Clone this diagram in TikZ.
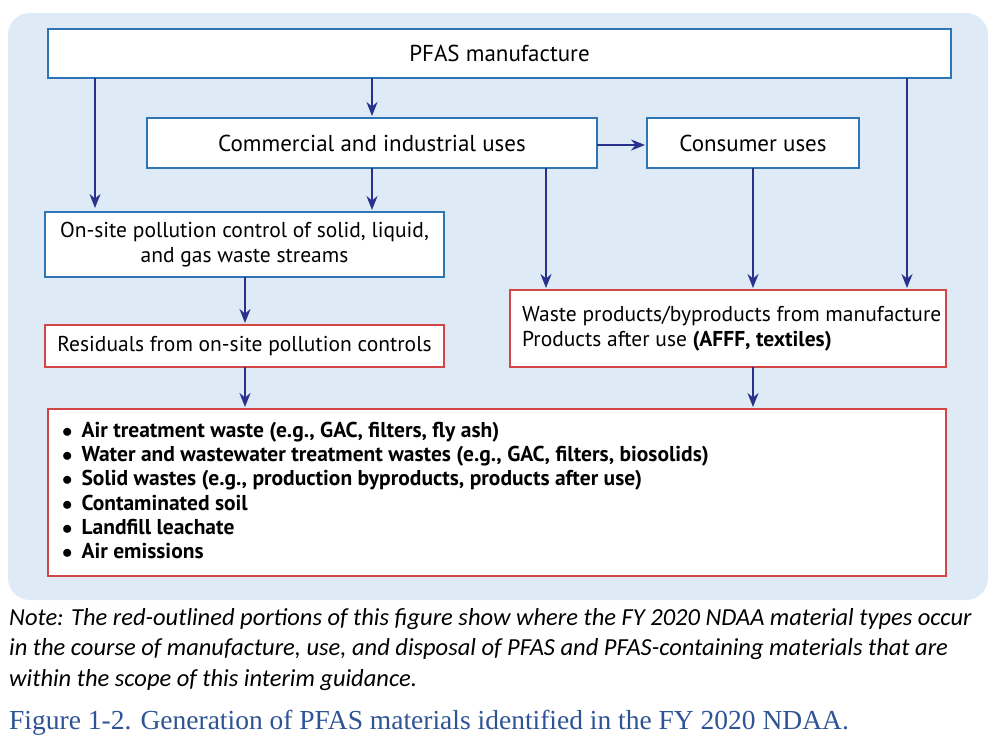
\documentclass[tikz,border=0pt]{standalone}
\usepackage{fontspec}
\usetikzlibrary{arrows.meta}
\setmainfont{PT Sans}
\newfontfamily\notefont{Carlito}
\newfontfamily\capfont{Liberation Serif}
\definecolor{bb}{RGB}{46,117,182}
\definecolor{rr}{RGB}{210,70,70}
\definecolor{bgc}{RGB}{222,234,246}
\definecolor{capc}{RGB}{46,84,150}
\definecolor{arc}{RGB}{40,50,140}
\begin{document}
\begin{tikzpicture}[x=1pt,y=-1pt,
  bx/.style={draw=bb,line width=2pt,fill=white},
  rb/.style={draw=rr,line width=1.8pt,fill=white},
  ar/.style={-{Stealth[length=14pt,width=11pt]},draw=arc,line width=1.8pt},
  tx/.style={font=\fontsize{23}{26}\selectfont,align=center},
  sx/.style={font=\fontsize{21.5}{25}\selectfont}]
\useasboundingbox (0,0) rectangle (1000,745);
\fill[white] (0,0) rectangle (1000,745);
\fill[rounded corners=22pt,fill=bgc] (8,13) rectangle (988,600);
\path[bx] (48,29) rectangle (951,78);
\node[tx] (pfas) at (499.5,53.5) {PFAS manufacture};
\path[bx] (147,118) rectangle (597,168);
\node[tx] (com) at (372,143) {Commercial and industrial uses};
\path[bx] (647,118) rectangle (859,168);
\node[tx] (con) at (753,143) {Consumer uses};
\path[bx] (45,212) rectangle (444,277);
\node[sx,align=center] (ons) at (244.5,244.5) {On-site pollution control of solid, liquid,\\ and gas waste streams};
\path[rb] (45,325) rectangle (444,367);
\node[sx,align=center] (res) at (244.5,346) {Residuals from on-site pollution controls};
\path[rb] (510,290) rectangle (946,367);
\node[sx,align=left,anchor=west,inner sep=0pt] (was) at (522,329) {Waste products/byproducts from manufacture\\ Products after use \textbf{(AFFF, textiles)}};
\path[rb] (48,409) rectangle (946,576);
\node[font=\fontsize{21.5}{24.2}\selectfont\bfseries,align=left,anchor=north west,inner sep=0pt] (lst) at (62,422) {%
$\bullet$\hspace{9pt}Air treatment waste (e.g., GAC, filters, fly ash)\\
$\bullet$\hspace{9pt}Water and wastewater treatment wastes (e.g., GAC, filters, biosolids)\\
$\bullet$\hspace{9pt}Solid wastes (e.g., production byproducts, products after use)\\
$\bullet$\hspace{9pt}Contaminated soil\\
$\bullet$\hspace{9pt}Landfill leachate\\
$\bullet$\hspace{9pt}Air emissions};
\draw[ar] (95,78) -- (95,208);
\draw[ar] (372,78) -- (372,116);
\draw[ar] (372,168) -- (372,210);
\draw[ar] (907,78) -- (907,288);
\draw[ar] (597,145) -- (645,145);
\draw[ar] (546,168) -- (546,288);
\draw[ar] (753,168) -- (753,288);
\draw[ar] (245,277) -- (245,323);
\draw[ar] (245,367) -- (245,407);
\draw[ar] (753,367) -- (753,407);
\node[font=\notefont\itshape\fontsize{24.5}{30.5}\selectfont,align=left,anchor=north west,inner sep=0pt] (note) at (9,608) {Note: The red-outlined portions of this figure show where the FY 2020 NDAA material types occur\\ in the course of manufacture, use, and disposal of PFAS and PFAS-containing materials that are\\ within the scope of this interim guidance.};
\node[font=\capfont\fontsize{27.5}{30}\selectfont,text=capc,anchor=west,inner sep=0pt] (cap) at (9,723) {Figure 1-2. Generation of PFAS materials identified in the FY 2020 NDAA.};
\end{tikzpicture}
\end{document}
